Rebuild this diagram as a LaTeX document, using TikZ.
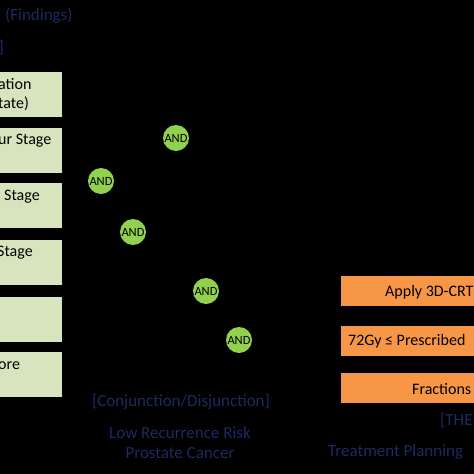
\documentclass[tikz,border=0pt]{standalone}
\usepackage{fontspec}
\setmainfont{Carlito}
\definecolor{findgreen}{RGB}{216,228,190}
\definecolor{andgreen}{RGB}{146,208,80}
\definecolor{planorange}{RGB}{247,150,70}
\definecolor{dimblue}{RGB}{28,42,96}

\begin{document}
\begin{tikzpicture}[x=1pt,y=-1pt,
  findbox/.style={fill=findgreen, minimum width=160pt, minimum height=45pt,
    anchor=north east, inner sep=0pt},
  andnode/.style={circle, fill=andgreen, minimum size=26pt, inner sep=0pt,
    font=\fontsize{12.5}{14}\selectfont},
  planbox/.style={fill=planorange, minimum width=160pt, minimum height=30pt,
    anchor=north west, inner sep=0pt},
  boxtxt/.style={anchor=west, inner sep=0pt, font=\fontsize{16}{19}\selectfont},
  bluetxt/.style={text=dimblue, inner sep=0pt, font=\fontsize{17}{20}\selectfont}]

\fill[black] (0,0) rectangle (474,474);
\useasboundingbox (0,0) rectangle (474,474);

% header (cut at the left)
\node[bluetxt, anchor=west] (findings) at (5,16) {(Findings)};
\node[bluetxt, anchor=east] (bracket) at (4,48) {]};

% findings boxes
\foreach \n/\top in {1/72, 2/128, 3/183, 4/240, 5/297, 6/352}
  \node[findbox] (find\n) at (62,\top) {};

\node[boxtxt] (txt1a) at (-2,84) {ation};
\node[boxtxt] (txt1b) at (-2,104) {tate)};
\node[boxtxt] (txt2) at (-2,141) {ur Stage};
\node[boxtxt] (txt3) at (4,197) {Stage};
\node[boxtxt] (txt4) at (-3,253) {Stage};
\node[boxtxt] (txt6) at (-2,366) {ore};

% AND gates
\foreach \n/\x/\y in {1/176/138, 2/101/181, 3/133/232, 4/206/291, 5/239/340}
  \node[andnode] (and\n) at (\x,\y) {AND};

% planning boxes (cut at the right)
\foreach \n/\top in {1/276, 2/326, 3/373}
  \node[planbox] (plan\n) at (341,\top) {};

\node[boxtxt] (ptxt1) at (385,292) {Apply 3D-CRT};
\node[boxtxt] (ptxt2) at (348,341) {72Gy ≤ Prescribed};
\node[boxtxt] (ptxt3) at (412,389) {Fractions};

% captions
\node[bluetxt] (conj) at (181,402) {[Conjunction/Disjunction]};
\node[bluetxt, align=center] (risk) at (180,443) {Low Recurrence Risk\\Prostate Cancer};
\node[bluetxt, anchor=west] (the) at (440,421) {[THE};
\node[bluetxt, anchor=west] (plan) at (328,452) {Treatment Planning};

\end{tikzpicture}
\end{document}
